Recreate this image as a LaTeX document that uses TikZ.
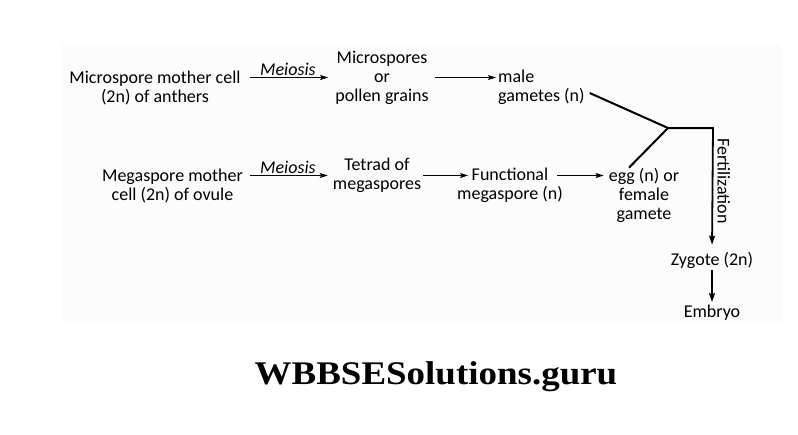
\documentclass[tikz,border=0pt]{standalone}
\usepackage{fontspec}
\setmainfont{Carlito}
\newfontfamily\wmfont[FakeStretch=1.12]{Liberation Serif}
\usetikzlibrary{arrows.meta}
\begin{document}
\begin{tikzpicture}[x=1pt,y=-1pt,
  lbl/.style={font=\fontsize{18}{19}\selectfont, align=center, inner sep=2pt},
  arr/.style={line width=1pt, -{Stealth[length=8pt,width=5pt,inset=1.5pt]}},
  fert/.style={line width=2pt, line cap=butt, line join=miter},
  fertarr/.style={line width=1.8pt, -{Stealth[length=9pt,width=6pt,inset=1.5pt]}},
  mei/.style={font=\fontsize{18}{19}\selectfont\itshape, inner sep=1pt, above}]
\useasboundingbox (0,0) rectangle (798,434);
\fill[black!1] (62,43) rectangle (782,322);
% row 1
\node[lbl] (mmc) at (155,88) {Microspore mother cell\\(2n) of anthers};
\node[lbl] (micro) at (382,77.5) {Microspores\\or\\pollen grains};
\node[lbl, align=left, anchor=west] (male) at (496,87) {male\\gametes (n)};
% row 2
\node[lbl] (megamc) at (172.5,185.5) {Megaspore mother\\cell (2n) of ovule};
\node[lbl] (tetrad) at (377,175.5) {Tetrad of\\megaspores};
\node[lbl] (fun) at (510,185) {Functional\\megaspore (n)};
\node[lbl] (egg) at (644,195) {egg (n) or\\female\\gamete};
% right column
\node[lbl] (zyg) at (712,260) {Zygote (2n)};
\node[lbl] (emb) at (712,313) {Embryo};
\coordinate (j) at (668,128);
\coordinate (k) at (713,128);
% arrows row 1
\draw[arr, shorten <=7pt, shorten >=5pt] (mmc.east |- micro.center) -- node[mei] (m1) {Meiosis} (micro.west);
\draw[arr, shorten <=4pt] (micro.east) -- (micro.east -| male.west);
% arrows row 2
\draw[arr, shorten <=5pt, shorten >=3pt] (megamc.east |- tetrad.center) -- node[mei] (m2) {Meiosis} (tetrad.west);
\draw[arr] (tetrad.east) -- ([xshift=13pt]tetrad.east -| fun.west);
\draw[arr, shorten >=3pt] ([xshift=-8pt]fun.east |- tetrad.east) -- (tetrad.east -| egg.west);
% fertilization
\draw[fert] (male.east) ++(3,6) -- (j) -- (k);
\draw[fert] ([xshift=-15pt,yshift=-2pt]egg.north) -- (j);
\draw[fertarr, shorten >=5pt] ([yshift=1pt]k) -- node[pos=0.44, anchor=south, rotate=-90, inner sep=4pt, font=\fontsize{18}{19}\selectfont] (fl) {Fertilization} (zyg.north);
\draw[fertarr, shorten >=1pt] (zyg.south) -- (emb.north);
% watermark
\node[font=\wmfont\bfseries\fontsize{33}{36}\selectfont, inner sep=0pt] (wm) at (436,377) {WBBSESolutions.guru};
\end{tikzpicture}
\end{document}
